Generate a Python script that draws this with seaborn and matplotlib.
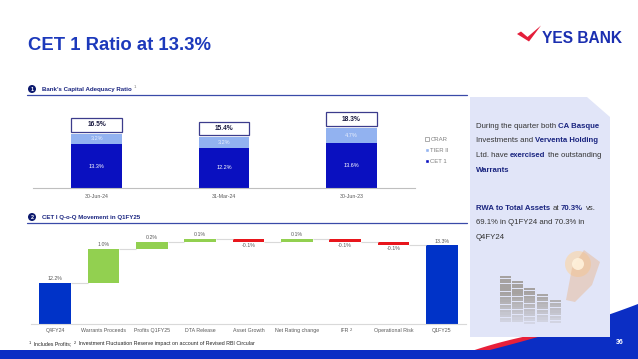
import numpy as np
import pandas as pd
import matplotlib
matplotlib.use('Agg')
import matplotlib.pyplot as plt
from matplotlib.patches import Rectangle, Polygon, Circle, Patch
import seaborn as sns

# ── Données ───────────────────────────────────────────────
periods = ['30-Jun-24', '31-Mar-24', '30-Jun-23']
cet1    = [13.3, 12.2, 13.6]
tier2   = [3.2, 3.2, 4.7]
crar    = [16.5, 15.4, 18.3]

steps  = ['Q4FY24', 'Warrants Proceeds', 'Profits Q1FY25', 'DTA Release',
          'Asset Growth', 'Net Rating change', 'IFR²', 'Operational Risk', 'Q1FY25']
start  = 12.2
deltas = [1.0, 0.2, 0.1, -0.1, 0.1, -0.1, -0.1]
end    = 13.3

# ── Style ─────────────────────────────────────────────────
W, H = 638, 359
sns.set_style('white')
plt.rcParams['font.family'] = ['Liberation Sans', 'DejaVu Sans']

TITLE_C = '#1c39bb'
NAVY    = '#1a2580'
CET_C   = '#0a10c0'
TIER_C  = '#92b2f0'
GREEN   = '#92d050'
RED     = '#e8161c'
BLUE    = '#0033c8'
GREY    = '#595959'
BAND    = '#0b2ec4'

fig = plt.figure(figsize=(W / 100, H / 100), dpi=100)
bg = fig.add_axes([0, 0, 1, 1])
bg.set_xlim(0, W)
bg.set_ylim(H, 0)
bg.axis('off')
renderer = fig.canvas.get_renderer()


def px_axes(x0, y0, x1, y1):
    ax = fig.add_axes([x0 / W, 1 - y1 / H, (x1 - x0) / W, (y1 - y0) / H])
    ax.set_facecolor('none')
    return ax


def bez(p0, p1, p2, n=80):
    t = np.linspace(0, 1, n)[:, None]
    p0, p1, p2 = map(np.array, (p0, p1, p2))
    return (1 - t) ** 2 * p0 + 2 * (1 - t) * t * p1 + t ** 2 * p2


def width(t):
    return t.get_window_extent(renderer=renderer).width


# ── Décor du slide ────────────────────────────────────────
bg.text(28, 50, 'CET 1 Ratio at 13.3%', fontsize=13.3, fontweight='bold',
        color=TITLE_C, va='baseline')

# logo
bg.add_patch(Polygon([(517, 34), (521, 31.5), (527.5, 37), (541, 25.5), (529, 41.5)],
                     closed=True, fc='#e41e3a', ec='none'))
bg.text(542, 43, 'YES BANK', fontsize=11.2, fontweight='bold', color='#1b2fb0',
        va='baseline')

# en-têtes de section
for num, y, label, sup in [('1', 89, 'Bank’s Capital Adequacy Ratio', '1'),
                           ('2', 217, 'CET I Q-o-Q Movement in Q1FY25', '')]:
    bg.add_patch(Circle((32, y), 4, fc='#0d1a6e', ec='none'))
    bg.text(32, y + 0.3, num, fontsize=4, fontweight='bold', color='white',
            ha='center', va='center')
    t = bg.text(42, y + 1.6, label, fontsize=4.4, fontweight='bold', color=NAVY,
                va='baseline')
    if sup:
        bg.text(42 + width(t) + 2, y - 0.5, sup, fontsize=3.2, color='#7f7f7f',
                va='baseline')
    bg.plot([27, 467], [y + 6, y + 6], color='#3a4aa8', lw=0.9)

# vague bleue / rouge en bas à droite
red = bez((466, 353), (536, 328), (638, 322))
red = np.vstack([red, [(638, 359), (466, 359)]])
bg.add_patch(Polygon(red, closed=True, fc='#e8203a', ec='none', zorder=1))
blue = bez((478, 353), (570, 330), (638, 304))
blue = np.vstack([blue, [(638, 359), (478, 359)]])
bg.add_patch(Polygon(blue, closed=True, fc=BAND, ec='none', zorder=1.1))
bg.add_patch(Rectangle((0, 350), W, 9, fc=BAND, ec='none', zorder=1.2))
bg.text(620, 342, '36', fontsize=5, fontweight='bold', color='white',
        ha='center', va='center', zorder=3)

# encadré de droite
bg.add_patch(Polygon([(470, 97), (587, 97), (610, 117), (610, 337), (470, 337)],
                     closed=True, fc='#e1e5f8', ec='none', zorder=2))

# pièces (illustration)
stacks = [(500, 276), (512, 281), (524, 288), (537, 294), (550, 300)]
for x0, top in stacks:
    for yy in np.arange(top, 322, 2.6):
        fade = min(1.0, (322 - yy) / 30)
        bg.add_patch(Rectangle((x0, yy), 11, 2.2, fc='#8d867c', ec='none',
                               alpha=0.15 + 0.55 * fade, zorder=2.2))
bg.add_patch(Circle((578, 264), 13, fc='#ffd39a', ec='none', alpha=0.55, zorder=2.1))
bg.add_patch(Circle((578, 264), 6, fc='#fff2dc', ec='none', alpha=0.9, zorder=2.15))
bg.add_patch(Polygon([(566, 300), (572, 268), (584, 250), (600, 262), (592, 285), (575, 302)],
                     closed=True, fc='#e8b58c', ec='none', alpha=0.45, zorder=2.12))


# texte de l'encadré (gras / normal)
def runs(x, y, parts, size=5.6):
    for s, b in parts:
        t = bg.text(x, y, s, fontsize=size, fontweight='bold' if b else 'normal',
                    color=NAVY if b else '#333333', va='baseline', zorder=3)
        x += width(t) + 2.2


panel_lines = [
    (128,   [('During the quarter both', 0), ('CA Basque', 1)]),
    (142.5, [('Investments and', 0), ('Verventa Holding', 1)]),
    (157,   [('Ltd. have', 0), ('exercised', 1), ('the outstanding', 0)]),
    (171.5, [('Warrants', 1)]),
    (210,   [('RWA to Total Assets', 1), ('at', 0), ('70.3%', 1), ('vs.', 0)]),
    (224.5, [('69.1% in Q1FY24 and 70.3% in', 0)]),
    (239,   [('Q4FY24', 0)]),
]
for y, parts in panel_lines:
    runs(476, y, parts)

# note de bas de page
x = 29
for s, is_sup in [('1', True), (' Includes Profits; ', False), ('2', True),
                  (' Investment Fluctuation Reserve impact on account of Revised RBI Circular', False)]:
    t = bg.text(x, 343.5 if is_sup else 345, s, fontsize=2.8 if is_sup else 3.8,
                color='#222222', va='baseline')
    x += width(t) + (0.8 if is_sup else 1.0)

# ── Graphique 1 : ratio de solvabilité ────────────────────
ax1 = px_axes(33, 105, 415, 188)
df1 = pd.DataFrame({'period': periods, 'cet1': cet1, 'tier2': tier2, 'crar': crar})
df1['stack'] = df1['cet1'] + df1['tier2']
sns.barplot(data=df1, x='period', y='stack', color=TIER_C, saturation=1,
            width=0.4, linewidth=0, ax=ax1)
sns.barplot(data=df1, x='period', y='cet1', color=CET_C, saturation=1,
            width=0.4, linewidth=0, ax=ax1)
ax1.set_xlim(-0.5, 2.5)
ax1.set_ylim(0, 83 / 3.3)
for i, row in df1.iterrows():
    ax1.text(i, row.cet1 / 2, f'{row.cet1:.1f}%', ha='center', va='center',
             fontsize=4, color='white')
    ax1.text(i, row.cet1 + row.tier2 / 2, f'{row.tier2:.1f}%', ha='center',
             va='center', fontsize=4, color='#e8eefc')
    y0 = row.stack + 0.6
    ax1.add_patch(Rectangle((i - 0.2, y0), 0.4, 4.0, fc='white', ec='#3c3c8c',
                            lw=0.9, clip_on=False))
    ax1.text(i, y0 + 2.0, f'{row.crar:.1f}%', ha='center', va='center',
             fontsize=4.8, fontweight='bold', color='#1a1a40')
sns.despine(ax=ax1, left=True)
ax1.spines['bottom'].set_color('#bfbfbf')
ax1.spines['bottom'].set_linewidth(0.8)
ax1.set_yticks([])
ax1.set_xlabel('')
ax1.set_ylabel('')
ax1.tick_params(axis='x', labelsize=3.8, colors=GREY, length=0, pad=4)

handles = [Patch(fc='white', ec='#8c8c8c', lw=0.5), Patch(fc=TIER_C), Patch(fc=CET_C)]
fig.legend(handles, ['CRAR', 'TIER II', 'CET 1'], loc='upper left',
           bbox_to_anchor=(425 / W, 1 - 137 / H), frameon=False, fontsize=4.3,
           labelcolor='#7f7f7f', handlelength=0.6, handleheight=0.6,
           handletextpad=0.3, labelspacing=1.0, borderpad=0, borderaxespad=0)

# ── Graphique 2 : waterfall CET 1 ─────────────────────────
running = [start]
for d in deltas:
    running.append(round(running[-1] + d, 2))

tops, lows, cols = [start], [0.0], [BLUE]
for k, d in enumerate(deltas):
    a, b = running[k], running[k + 1]
    tops.append(max(a, b))
    lows.append(min(a, b))
    cols.append(GREEN if d > 0 else RED)
tops.append(end)
lows.append(0.0)
cols.append(BLUE)

df2 = pd.DataFrame({'step': steps, 'top': tops, 'low': lows})
ax2 = px_axes(31, 233, 466, 323.5)
sns.barplot(data=df2, x='step', y='top', hue='step', palette=dict(zip(steps, cols)),
            legend=False, saturation=1, width=0.66, linewidth=0, ax=ax2)
sns.barplot(data=df2, x='step', y='low', color='white', saturation=1,
            width=0.66, linewidth=0, ax=ax2)
ax2.set_xlim(-0.5, len(steps) - 0.5)
ax2.set_ylim(11.0, 11.0 + 90.5 / 34)

for i in range(len(steps) - 1):
    ax2.hlines(running[i], i + 0.33, i + 0.67, color='#d9d9d9', lw=0.8)

values = [start] + deltas + [end]
for i, v in enumerate(values):
    if v >= 0:
        ax2.text(i, tops[i] + 0.05, f'{v:.1f}%', ha='center', va='bottom',
                 fontsize=3.8, color=GREY)
    else:
        ax2.text(i, lows[i] - 0.03, f'{v:.1f}%', ha='center', va='top',
                 fontsize=3.8, color=GREY)

sns.despine(ax=ax2, left=True)
ax2.spines['bottom'].set_color('#d9d9d9')
ax2.spines['bottom'].set_linewidth(0.8)
ax2.set_yticks([])
ax2.set_xlabel('')
ax2.set_ylabel('')

# exposant "2" plus visible que le glyphe ² à cette taille
ax2.set_xticks(range(len(steps)), [s.replace('²', '') for s in steps])
ax2.tick_params(axis='x', labelsize=3.8, colors=GREY, length=0, pad=3.5)
ifr = [s for s in steps if '²' in s][0]
k = steps.index(ifr)
ax2.annotate('2', xy=(k, 0), xycoords=('data', 'axes fraction'),
             xytext=(3.3, -3.3), textcoords='offset points', fontsize=3,
             color=GREY, ha='left', va='top', annotation_clip=False)

fig.savefig('out.png', dpi=100)
